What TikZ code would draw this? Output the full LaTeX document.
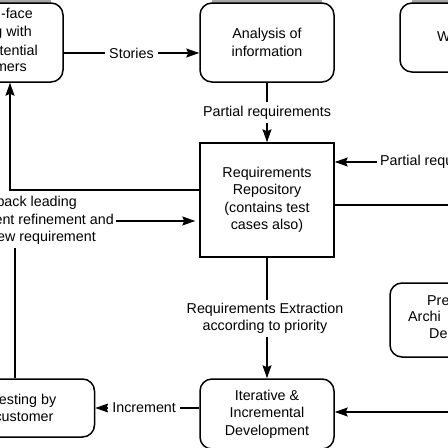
\documentclass[tikz,border=0pt]{standalone}
\usepackage{fontspec}
\setmainfont{Liberation Sans}
\usetikzlibrary{arrows.meta}

\tikzset{
  stage/.style={draw, rounded corners=12pt, line width=1.5pt, align=center},
  store/.style={draw, line width=1.5pt, align=center},
  flow/.style={line width=1.2pt, -{Stealth[length=13pt,width=9pt,inset=2pt]}},
  link/.style={line width=1.2pt},
  tag/.style={fill=white, inner sep=4pt},
  cut/.style={inner sep=0pt, text height=10pt, text depth=3pt},
}

\begin{document}
\begin{tikzpicture}[x=1pt,y=-1pt,font=\fontsize{14.3}{17.5}\selectfont]
\useasboundingbox (0,0) rectangle (448,448);
\clip (0,0) rectangle (448,448);
% dark bands over the box tops
\fill[gray!70] (0,0) rectangle (51,2.6);
\fill[gray!70] (212,0) rectangle (322,2.6);
\fill[gray!70] (412,0) rectangle (448,2.6);
% boxes
\node[stage, minimum width=123pt, minimum height=79pt] (cust) at (1.5,42.5) {};
\node[stage, minimum width=134pt, minimum height=79pt] (ana) at (267,42.5) {Analysis of\\information};
\node[stage, minimum width=130pt, minimum height=69pt] (work) at (465,37.5) {};
\node[store, minimum width=134pt, minimum height=114pt] (repo) at (267,200) {Requirements\\Repository\\(contains test\\cases also)};
\node[stage, minimum width=130pt, minimum height=74pt] (arch) at (455,320) {};
\node[stage, minimum width=134pt, minimum height=70pt] (dev) at (267,414) {Iterative \&\\Incremental\\Development};
\node[stage, minimum width=141pt, minimum height=58pt] (test) at (24,408) {Testing by\\customer};
% texts cut by the frame
\foreach \t/\x/\y [count=\i] in {-face/33/15, g with/32/33, tential/38/52, mers/27/68}
  \node[cut, anchor=east] (cust\i) at (\x,\y) {\t};
\node[cut, anchor=west] (work1) at (437,38) {W};
\node[cut, anchor=west] (arch1) at (427,302) {Preli};
\node[cut, anchor=west] (arch2) at (408,318) {Archi};
\node[cut, anchor=west] (arch3) at (429,335) {De};
\node[cut, anchor=east] (fb1) at (77,203) {back leading};
\node[cut, anchor=east] (fb2) at (114,221) {ent refinement and};
\node[cut, anchor=east] (fb3) at (96,238) {ew requirement};
\node[cut, anchor=west] (part2) at (380,162) {Partial requ};
\node[align=center, inner sep=3pt] (ext) at (265,318.5) {Requirements Extraction\\according to priority};
% free ends
\coordinate (fbturn) at (10,190);
\coordinate (fbfoot) at (15,248);
\coordinate (repoout) at (448,205);
\coordinate (devin) at (448,412);
% connectors
\draw[flow] ([yshift=-10.5pt]cust.east) -- node[tag] {Stories} ([yshift=-10.5pt]ana.west);
\draw[flow] (ana.south) -- node[tag] {Partial requirements} (repo.north);
\draw[flow] (repo.west |- fbturn) -- (fbturn) -- (fbturn |- cust.south);
\draw[link] (test.north -| fbfoot) -- (fbfoot);
\draw[flow, shorten <=2pt, shorten >=4pt] (fb2.east) -- (fb2.east -| repo.west);
\draw[flow, shorten <=3pt] (part2.west) -- (part2.west -| repo.east);
\draw[link] (repo.east |- repoout) -- (repoout);
\draw[link] (repo.south) -- (repo.south |- ext.north);
\draw[flow] (repo.south |- ext.south) -- (dev.north);
\draw[flow] (dev.west |- test.east) -- node[tag, pos=0.53] {Increment} (test.east);
\draw[flow] (devin) -- (devin -| dev.east);
\end{tikzpicture}
\end{document}
